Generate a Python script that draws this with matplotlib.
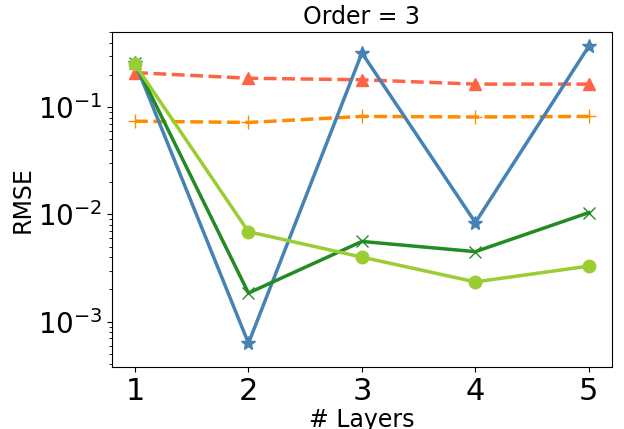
import matplotlib
matplotlib.use("Agg")
import matplotlib.pyplot as plt

layers = [1, 2, 3, 4, 5]
blue = [0.26, 6.3e-4, 0.32, 8.4e-3, 0.37]
red = [0.21, 0.186, 0.18, 0.164, 0.164]
orange = [0.074, 0.072, 0.082, 0.081, 0.082]
green = [0.26, 1.85e-3, 5.6e-3, 4.5e-3, 1.04e-2]
ygreen = [0.25, 6.9e-3, 4.0e-3, 2.35e-3, 3.3e-3]

fig, ax = plt.subplots(figsize=(6.24, 4.29), dpi=100)
ax.plot(layers, red, '--', marker='^', color='tomato', lw=2.5, ms=9)
ax.plot(layers, orange, '--', marker='+', color='darkorange', lw=2.5, ms=10)
ax.plot(layers, blue, '-', marker='*', color='steelblue', lw=2.5, ms=10)
ax.plot(layers, green, '-', marker='x', color='forestgreen', lw=2.5, ms=9)
ax.plot(layers, ygreen, '-', marker='o', color='yellowgreen', lw=2.5, ms=9)
ax.set_yscale('log')
ax.set_ylim(3.8e-4, 0.5)
ax.set_xticks(layers)
ax.tick_params(axis='x', labelsize=22)
ax.tick_params(axis='y', labelsize=20)
ax.set_xlabel('# Layers', fontsize=17, labelpad=2)
ax.set_ylabel('RMSE', fontsize=17, labelpad=2)
ax.set_title('Order = 3', fontsize=17)
fig.subplots_adjust(left=0.18, right=0.98, top=0.925, bottom=0.145)
fig.savefig('out.png')
